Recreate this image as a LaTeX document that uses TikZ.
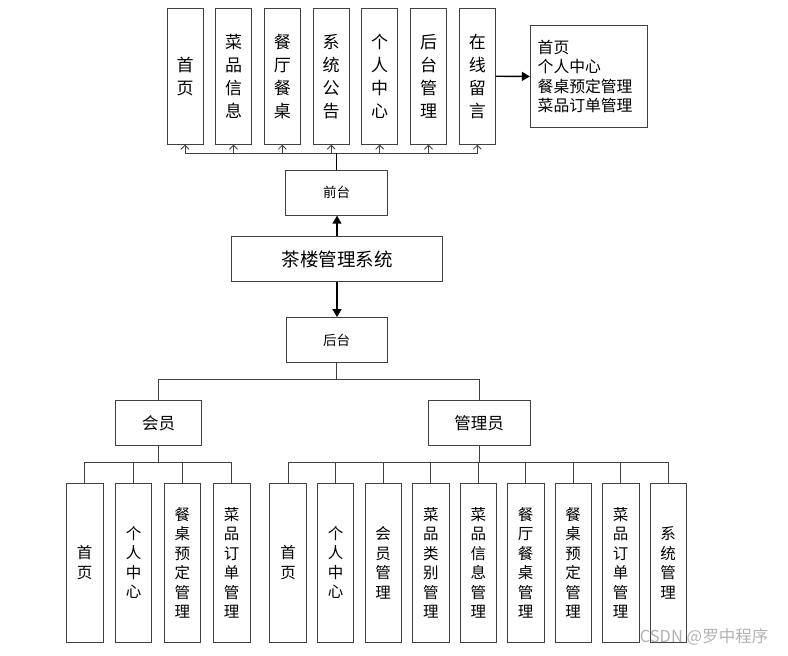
\documentclass[tikz,border=0pt]{standalone}
\usepackage{fontspec}
\setmainfont{Noto Sans CJK SC}
\usetikzlibrary{arrows.meta}
\begin{document}
\begin{tikzpicture}[x=1pt,y=-1pt,
  box/.style={draw=black!75, line width=0.8pt, fill=white, inner sep=0pt},
  tvbox/.style={box, minimum width=36pt, minimum height=136pt, align=center, font=\fontsize{17}{23}\selectfont},
  bvbox/.style={box, minimum width=36.5pt, minimum height=158.5pt, align=center, font=\fontsize{15.5}{19.5}\selectfont},
  hbox/.style={box, minimum height=45pt},
  ln/.style={draw=black!75, line width=0.8pt},
  stem/.style={draw=black, line width=1.5pt},
  openarrow/.style={ln, -{Straight Barb[length=4pt,width=8pt]}},
  bigarrow/.style={draw=black, line width=1.3pt, -{Triangle[length=8pt,width=9pt]}}
]
\useasboundingbox (0,0) rectangle (788,656);

% top row
\node[tvbox] (t1) at (185,76.3) {首\\页};
\node[tvbox] (t2) at (233.5,76.3) {菜\\品\\信\\息};
\node[tvbox] (t3) at (282.3,76.3) {餐\\厅\\餐\\桌};
\node[tvbox] (t4) at (331.2,76.3) {系\\统\\公\\告};
\node[tvbox] (t5) at (379.7,76.3) {个\\人\\中\\心};
\node[tvbox] (t6) at (428.5,76.3) {后\\台\\管\\理};
\node[tvbox] (t7) at (477.3,76.3) {在\\线\\留\\言};
\node[box, minimum width=117.4pt, minimum height=101.6pt, text width=102.6pt, inner xsep=7.4pt, align=left, font=\fontsize{15.8}{19.5}\selectfont] (rb) at (589,76.5) {首页\\个人中心\\餐桌预定管理\\菜品订单管理};
\draw[bigarrow] (t7) -- (rb);

% front / system / back
\node[hbox, minimum width=102.4pt, font=\fontsize{13.5}{15}\selectfont] (qt) at (336.5,192.7) {前台};
\node[hbox, minimum width=210.6pt, font=\fontsize{18.5}{20}\selectfont] (sys) at (337,259.3) {茶楼管理系统};
\node[hbox, minimum width=101.3pt, font=\fontsize{13.5}{15}\selectfont] (ht) at (336.7,340) {后台};
\coordinate (tbus) at (0,153.3);
\foreach \n in {t1,t2,t3,t4,t5,t6,t7}{
  \draw[openarrow] (qt.north) -- (qt.north|-tbus) -| (\n.south);
}
\draw[stem] (qt.north) -- (qt.north|-tbus);
\draw[bigarrow] (sys.north) -- (sys.north|-qt.south);
\draw[bigarrow] (sys.south) -- (sys.south|-ht.north);

% second level
\node[hbox, minimum width=86.4pt, font=\fontsize{16.5}{18}\selectfont] (hy) at (158.5,423.3) {会员};
\node[hbox, minimum width=102pt, font=\fontsize{16.5}{18}\selectfont] (gly) at (479,423.3) {管理员};
\coordinate (mbus) at (0,379.3);
\draw[ln] (ht.south) -- (ht.south|-mbus) -| (hy.north);
\draw[ln] (ht.south) -- (ht.south|-mbus) -| (gly.north);

% member children
\node[bvbox] (m1) at (84.7,562.7) {首\\页};
\node[bvbox] (m2) at (133.5,562.7) {个\\人\\中\\心};
\node[bvbox] (m3) at (182.3,562.7) {餐\\桌\\预\\定\\管\\理};
\node[bvbox] (m4) at (231.7,562.7) {菜\\品\\订\\单\\管\\理};
\coordinate (cbus) at (0,462.7);
\foreach \n in {m1,m2,m3,m4}{
  \draw[ln] (hy.south) -- (hy.south|-cbus) -| (\n.north);
}

% admin children
\node[bvbox] (a1) at (288,562.7) {首\\页};
\node[bvbox] (a2) at (335.5,562.7) {个\\人\\中\\心};
\node[bvbox] (a3) at (383.2,562.7) {会\\员\\管\\理};
\node[bvbox] (a4) at (430.8,562.7) {菜\\品\\类\\别\\管\\理};
\node[bvbox] (a5) at (478.3,562.7) {菜\\品\\信\\息\\管\\理};
\node[bvbox] (a6) at (525.7,562.7) {餐\\厅\\餐\\桌\\管\\理};
\node[bvbox] (a7) at (573.2,562.7) {餐\\桌\\预\\定\\管\\理};
\node[bvbox] (a8) at (620.7,562.7) {菜\\品\\订\\单\\管\\理};
\node[bvbox] (a9) at (668.2,562.7) {系\\统\\管\\理};
\foreach \n in {a1,a2,a3,a4,a5,a6,a7,a8,a9}{
  \draw[ln] (gly.south) -- (gly.south|-cbus) -| (\n.north);
}

% watermark
\node[text=black!30, font=\fontsize{16.5}{18}\selectfont, inner sep=0pt] (wm) at (704,637) {CSDN @罗中程序};
\end{tikzpicture}
\end{document}
